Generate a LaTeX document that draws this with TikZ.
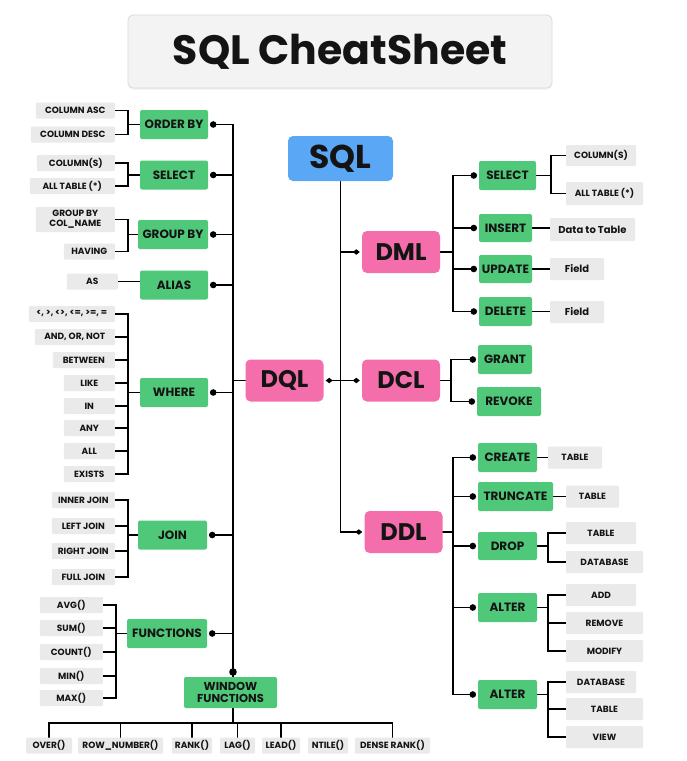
\documentclass[tikz,border=0pt]{standalone}
\usepackage{fontspec}
\setmainfont{Poppins}
\usetikzlibrary{arrows.meta,shadows}
\definecolor{grn}{RGB}{80,200,122}
\definecolor{pnk}{RGB}{244,110,172}
\definecolor{blu}{RGB}{90,168,245}
\definecolor{lgr}{RGB}{234,234,234}
\definecolor{tgray}{RGB}{243,243,243}
\definecolor{tborder}{RGB}{218,218,218}
\definecolor{txt}{RGB}{20,20,20}
\pgfdeclarelayer{bg}
\pgfsetlayers{bg,main}
\newcommand\ldot[1]{\path (#1.east) ++(5,0) coordinate (tmp); \draw[wire] (tmp) -- (tmp -| trunk); \fill (tmp) circle (3.3pt);}
\newcommand\rdot[2]{\path (#1.west) ++(-5,0) coordinate (tmp); \draw[wire] (tmp) -- (tmp -| #2); \fill (tmp) circle (3.3pt);}
\begin{document}
\begin{tikzpicture}[x=1pt,y=-1pt,
  wire/.style={line width=1.5pt, line cap=rect},
  box/.style={rounded corners=2pt, inner sep=0pt, align=center, text=txt},
  gbox/.style={box, fill=grn, minimum height=29, font=\bfseries\fontsize{12}{13}\selectfont},
  lbl/.style={box, fill=lgr, rounded corners=1pt, minimum height=16, font=\bfseries\fontsize{9}{10}\selectfont},
  rlbl/.style={lbl, minimum height=22},
  pbox/.style={box, fill=pnk, rounded corners=5pt, minimum width=78, minimum height=42, font=\bfseries\fontsize{24}{26}\selectfont},
  dia/.style={wire, line cap=butt, shorten >=2pt, -{Diamond[length=7pt,width=5.5pt]}}]
\useasboundingbox (0,0) rectangle (686,761);
\begin{pgfonlayer}{bg}
\fill[white] (0,0) rectangle (686,761);
\end{pgfonlayer}
\coordinate (trunk) at (233,0);
\coordinate (lb) at (128,0);
\coordinate (fb) at (116,0);
\coordinate (bus) at (0,723);
\coordinate (rb1) at (453,0);
\coordinate (rb2) at (451,0);
\coordinate (rb3) at (453,0);
\coordinate (sb) at (551,0);
\coordinate (db) at (548,0);

% title
\node[box, fill=tgray, draw=tborder, line width=0.8pt, rounded corners=5pt, minimum width=424, minimum height=73,
  drop shadow={opacity=0.12, shadow xshift=0pt, shadow yshift=-1.5pt},
  font=\bfseries\fontsize{41}{44}\selectfont] (title) at (340,51.5) {SQL CheatSheet};

% top level
\node[box, fill=blu, rounded corners=5pt, minimum width=105, minimum height=45, font=\bfseries\fontsize{33}{35}\selectfont] (SQL) at (340.5,158.5) {SQL};
\node[pbox] (DML) at (401,252) {DML};
\node[pbox] (DCL) at (401,380.5) {DCL};
\node[pbox] (DQL) at (284.5,380.5) {DQL};
\node[pbox] (DDL) at (403.5,532) {DDL};

% left green
\node[gbox, minimum width=68] (ORD) at (174,124.5) {ORDER BY};
\node[gbox, minimum width=68] (SELL) at (174,175) {SELECT};
\node[gbox, minimum width=70] (GRP) at (173,234.5) {GROUP BY};
\node[gbox, minimum width=68] (ALI) at (174,285) {ALIAS};
\node[gbox, minimum width=68] (WHR) at (174,392.5) {WHERE};
\node[gbox, minimum width=69] (JN) at (172.5,535) {JOIN};
\node[gbox, minimum width=80] (FN) at (167,633.5) {FUNCTIONS};
\node[gbox, minimum width=93, minimum height=31, font=\bfseries\fontsize{11.5}{12}\selectfont] (WF) at (230.5,692.5) {WINDOW\\FUNCTIONS};

% left grey
\node[lbl, anchor=east, minimum width=79] (CASC) at (115,110.5) {COLUMN ASC};
\node[lbl, anchor=east, minimum width=84] (CDESC) at (115,134.5) {COLUMN DESC};
\node[lbl, anchor=east, minimum width=78] (CS1) at (115,163) {COLUMN(S)};
\node[lbl, anchor=east, minimum width=85] (AT1) at (115,186) {ALL TABLE (*)};
\node[lbl, anchor=east, minimum width=79, minimum height=25] (GBC) at (115,219.5) {GROUP BY\\COL\_NAME};
\node[lbl, anchor=east, minimum width=51] (HAV) at (115,251.5) {HAVING};
\node[lbl, anchor=east, minimum width=51] (AS) at (118,281.5) {AS};
\foreach \n/\t/\w/\y in {W1/{<, >, <>, <=, >=, =}/86/314, W2/{AND, OR, NOT}/80/337, W3/BETWEEN/62/360,
  W4/LIKE/51/383, W5/IN/51/406, W6/ANY/51/428, W7/ALL/51/451, W8/EXISTS/51/474,
  J1/INNER JOIN/63/500, J2/LEFT JOIN/63/526, J3/RIGHT JOIN/63/551, J4/FULL JOIN/63/577}
  {\node[lbl, anchor=east, minimum width=\w] (\n) at (115,\y) {\t};}
\foreach \n/\t/\y in {F1/AVG()/605, F2/SUM()/628, F3/COUNT()/652, F4/MIN()/676, F5/MAX()/698}
  {\node[lbl, anchor=east, minimum width=63] (\n) at (103,\y) {\t};}

% bottom row
\foreach \n/\t/\w/\x in {B1/OVER()/46/49, B2/ROW\_NUMBER()/85/120.5, B3/RANK()/40/192, B4/LAG()/35/237.5,
  B5/LEAD()/38/281, B6/NTILE()/40/328, B7/DENSE RANK()/75/392.5}
  {\node[lbl, minimum width=\w] (\n) at (\x,745.5) {\t};}

% right green
\node[gbox, minimum width=57] (SELR) at (507.5,175.5) {SELECT};
\node[gbox, minimum width=53, minimum height=28] (INS) at (505.5,228) {INSERT};
\node[gbox, minimum width=53, minimum height=28] (UPD) at (505.5,269) {UPDATE};
\node[gbox, minimum width=53] (DEL) at (505.5,311.5) {DELETE};
\node[gbox, minimum width=54] (GRA) at (505,359.5) {GRANT};
\node[gbox, minimum width=64] (REV) at (509,401.5) {REVOKE};
\node[gbox, minimum width=59] (CRE) at (507.5,457.5) {CREATE};
\node[gbox, minimum width=75] (TRU) at (515.5,496.5) {TRUNCATE};
\node[gbox, minimum width=59, minimum height=28] (DRO) at (507.5,546) {DROP};
\node[gbox, minimum width=59] (ALT1) at (507.5,607.5) {ALTER};
\node[gbox, minimum width=59] (ALT2) at (507.5,694.5) {ALTER};

% right grey
\node[rlbl, minimum width=70, minimum height=21] (CS2) at (601,155.5) {COLUMN(S)};
\node[rlbl, minimum width=77, minimum height=23] (AT2) at (604.5,193.5) {ALL TABLE (*)};
\node[rlbl, minimum width=85, minimum height=23, font=\bfseries\fontsize{10}{11}\selectfont] (DTT) at (592.5,229.5) {Data to Table};
\node[rlbl, minimum width=54, font=\bfseries\fontsize{10}{11}\selectfont] (FLD1) at (577,269) {Field};
\node[rlbl, minimum width=54, font=\bfseries\fontsize{10}{11}\selectfont] (FLD2) at (577,312) {Field};
\node[rlbl, minimum width=54] (CT) at (575,457.5) {TABLE};
\node[rlbl, minimum width=53] (TT) at (592.5,496.5) {TABLE};
\node[rlbl, minimum width=70] (DT) at (601,533) {TABLE};
\node[rlbl, minimum width=77] (DD) at (604.5,562) {DATABASE};
\node[rlbl, minimum width=70] (ADD) at (601,595) {ADD};
\node[rlbl, minimum width=77] (REM) at (604.5,623) {REMOVE};
\node[rlbl, minimum width=77] (MOD) at (604.5,651) {MODIFY};
\node[rlbl, minimum width=70] (DB2) at (601,682) {DATABASE};
\node[rlbl, minimum width=77] (TB2) at (604.5,709) {TABLE};
\node[rlbl, minimum width=77] (VW) at (604.5,737) {VIEW};

\begin{pgfonlayer}{bg}
% SQL connections
\draw[dia] (SQL.south) |- (DDL.west);
\draw[dia] (SQL.south |- DML.west) -- (DML.west);
\draw[wire, line cap=butt, shorten >=2pt, shorten <=2pt, {Diamond[length=7pt,width=5.5pt]}-{Diamond[length=7pt,width=5.5pt]}] (DQL.east) -- (DCL.west);
% left trunk
\draw[wire] (DQL.west) -- (DQL.west -| trunk);
\draw[wire] (trunk |- ORD.east) -- (233,672) -- (WF.north -| trunk);
\fill (233,672) circle (3.8pt);
\foreach \n in {ORD,SELL,GRP,ALI,WHR,JN,FN} {\ldot{\n}}
% left brackets
\draw[wire] (CASC.east) -- (CASC.east -| lb) -- (CDESC.east -| lb) -- (CDESC.east);
\draw[wire] (ORD.west -| lb) -- (ORD.west);
\draw[wire] (CS1.east) -- (CS1.east -| lb) -- (AT1.east -| lb) -- (AT1.east);
\draw[wire] (SELL.west -| lb) -- (SELL.west);
\draw[wire] (GBC.east) -- (GBC.east -| lb) -- (HAV.east -| lb) -- (HAV.east);
\draw[wire] (GRP.west -| lb) -- (GRP.west);
\draw[wire] (AS.east) -- (AS.east -| ALI.west);
\draw[wire] (W1.east -| lb) -- (W8.east -| lb);
\foreach \n in {W1,W2,W3,W4,W5,W6,W7,W8} {\draw[wire] (\n.east) -- (\n.east -| lb);}
\draw[wire] (WHR.west -| lb) -- (WHR.west);
\draw[wire] (J1.east -| lb) -- (J4.east -| lb);
\foreach \n in {J1,J2,J3,J4} {\draw[wire] (\n.east) -- (\n.east -| lb);}
\draw[wire] (JN.west -| lb) -- (JN.west);
\draw[wire] (F1.east -| fb) -- (F5.east -| fb);
\foreach \n in {F1,F2,F3,F4,F5} {\draw[wire] (\n.east) -- (\n.east -| fb);}
\draw[wire] (FN.west -| fb) -- (FN.west);
% bottom bus
\draw[wire] (WF.south -| trunk) -- (trunk |- bus);
\draw[wire] (B1.north |- bus) -- (B7.north |- bus);
\foreach \n in {B1,B2,B3,B4,B5,B7} {\draw[wire] (\n.north) -- (\n.north |- bus);}
% right: DML
\draw[wire] (DML.east) -- (DML.east -| rb1);
\draw[wire] (SELR.west -| rb1) -- (DEL.west -| rb1);
\foreach \n in {SELR,INS,UPD,DEL} {\rdot{\n}{rb1}}
\draw[wire] (SELR.east) -- (SELR.east -| sb);
\draw[wire] (CS2.west) -- (CS2.west -| sb) -- (AT2.west -| sb) -- (AT2.west);
\draw[wire] (INS.east) -- (INS.east -| DTT.west);
\draw[wire] (UPD.east) -- (FLD1.west);
\draw[wire] (DEL.east) -- (DEL.east -| FLD2.west);
% DCL
\draw[wire] (DCL.east) -- (DCL.east -| rb2);
\draw[wire] (GRA.west -| rb2) -- (REV.west -| rb2);
\foreach \n in {GRA,REV} {\rdot{\n}{rb2}}
% DDL
\draw[wire] (DDL.east) -- (DDL.east -| rb3);
\draw[wire] (CRE.west -| rb3) -- (ALT2.west -| rb3);
\foreach \n in {CRE,TRU,DRO,ALT1,ALT2} {\rdot{\n}{rb3}}
\draw[wire] (CRE.east) -- (CRE.east -| CT.west);
\draw[wire] (TRU.east) -- (TRU.east -| TT.west);
\draw[wire] (DRO.east) -- (DRO.east -| db);
\draw[wire] (DT.west) -- (DT.west -| db) -- (DD.west -| db) -- (DD.west);
\draw[wire] (ALT1.east) -- (ALT1.east -| db);
\draw[wire] (ADD.west -| db) -- (MOD.west -| db);
\foreach \n in {ADD,REM,MOD} {\draw[wire] (\n.west) -- (\n.west -| db);}
\draw[wire] (ALT2.east) -- (ALT2.east -| db);
\draw[wire] (DB2.west -| db) -- (VW.west -| db);
\foreach \n in {DB2,TB2,VW} {\draw[wire] (\n.west) -- (\n.west -| db);}
\end{pgfonlayer}
\end{tikzpicture}
\end{document}
